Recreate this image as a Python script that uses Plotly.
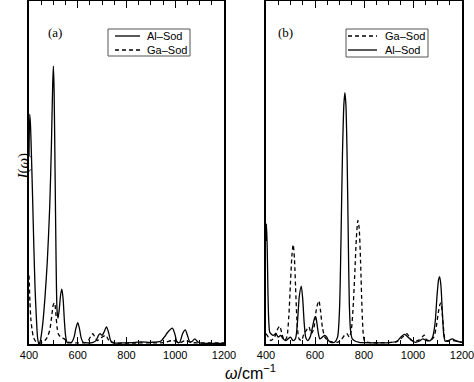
import plotly.graph_objects as go

# ---------------- data (relative intensity) ----------------
a_al_w = [400, 403, 406, 410, 415, 420, 425, 430, 435, 440, 445, 455, 465, 475, 485, 492, 497, 500, 503,
          507, 511, 515, 519, 524, 530, 535, 540, 545, 550, 556, 565, 575, 585, 592, 600, 607, 614, 622,
          640, 660, 675, 685, 692, 700, 708, 718, 726, 735, 745, 780, 820, 860, 900, 940, 955, 970, 988,
          998, 1008, 1018, 1030, 1041, 1050, 1060, 1070, 1080, 1090, 1100, 1150, 1200]
a_al_i = [0.55, 0.67, 0.64, 0.55, 0.42, 0.28, 0.16, 0.08, 0.02, 0.0, 0.005, 0.05, 0.13, 0.24, 0.40, 0.58,
          0.75, 0.81, 0.74, 0.50, 0.25, 0.10, 0.075, 0.10, 0.145, 0.16, 0.13, 0.07, 0.025, 0.005, 0.003,
          0.005, 0.02, 0.045, 0.062, 0.045, 0.018, 0.005, 0.003, 0.004, 0.01, 0.025, 0.03, 0.025, 0.035,
          0.05, 0.035, 0.01, 0.003, 0.003, 0.004, 0.006, 0.005, 0.008, 0.02, 0.035, 0.046, 0.03, 0.005,
          0.005, 0.03, 0.041, 0.025, 0.006, 0.008, 0.015, 0.008, 0.003, 0.002, 0.002]

a_ga_w = [400, 404, 408, 413, 418, 425, 435, 450, 465, 475, 485, 493, 500, 505, 510, 515, 520, 530, 545,
          560, 575, 600, 630, 645, 655, 662, 670, 680, 690, 700, 715, 730, 760, 850, 950, 990, 1020, 1040,
          1070, 1120, 1200]
a_ga_i = [0.20, 0.12, 0.07, 0.04, 0.02, 0.01, 0.004, 0.003, 0.01, 0.02, 0.04, 0.08, 0.115, 0.12, 0.09,
          0.05, 0.03, 0.02, 0.015, 0.006, 0.004, 0.003, 0.004, 0.012, 0.025, 0.03, 0.02, 0.01, 0.015, 0.02,
          0.025, 0.008, 0.003, 0.003, 0.004, 0.01, 0.004, 0.01, 0.004, 0.003, 0.003]

b_al_w = [400, 402, 405, 408, 411, 415, 420, 430, 440, 450, 460, 470, 480, 490, 500, 510, 520, 528, 536,
          544, 550, 556, 562, 570, 580, 590, 598, 603, 608, 614, 620, 630, 640, 648, 655, 665, 680, 692,
          700, 706, 712, 718, 722, 726, 731, 736, 740, 745, 752, 765, 780, 800, 850, 900, 935, 950, 965,
          980, 995, 1010, 1025, 1040, 1055, 1070, 1080, 1090, 1098, 1105, 1109, 1114, 1120, 1126, 1132,
          1145, 1160, 1175, 1190, 1200]
b_al_i = [0.30, 0.35, 0.28, 0.15, 0.07, 0.035, 0.03, 0.025, 0.03, 0.02, 0.025, 0.015, 0.01, 0.015, 0.02,
          0.01, 0.015, 0.06, 0.14, 0.169, 0.13, 0.06, 0.02, 0.01, 0.02, 0.05, 0.075, 0.08, 0.06, 0.03,
          0.015, 0.02, 0.025, 0.02, 0.01, 0.005, 0.005, 0.02, 0.10, 0.30, 0.55, 0.70, 0.733, 0.70, 0.55,
          0.30, 0.12, 0.04, 0.015, 0.008, 0.005, 0.004, 0.003, 0.004, 0.008, 0.02, 0.028, 0.02, 0.01,
          0.005, 0.008, 0.015, 0.01, 0.01, 0.02, 0.06, 0.14, 0.19, 0.196, 0.17, 0.09, 0.025, 0.008, 0.01,
          0.015, 0.01, 0.006, 0.005]

b_ga_w = [400, 410, 420, 435, 445, 456, 465, 475, 485, 493, 500, 506, 511, 516, 522, 528, 535, 545, 555,
          565, 575, 585, 595, 603, 610, 616, 622, 630, 640, 655, 670, 690, 705, 720, 730, 740, 748, 755,
          762, 769, 775, 780, 786, 792, 797, 803, 830, 880, 930, 950, 965, 975, 985, 995, 1010, 1025, 1040,
          1046, 1055, 1070, 1085, 1095, 1103, 1110, 1114, 1118, 1124, 1130, 1140, 1160, 1180, 1200]
b_ga_i = [0.03, 0.02, 0.01, 0.02, 0.04, 0.052, 0.03, 0.01, 0.02, 0.08, 0.18, 0.26, 0.29, 0.25, 0.14, 0.05,
          0.015, 0.01, 0.03, 0.04, 0.05, 0.03, 0.045, 0.09, 0.115, 0.126, 0.10, 0.05, 0.02, 0.01, 0.006,
          0.005, 0.01, 0.025, 0.03, 0.02, 0.04, 0.10, 0.20, 0.31, 0.36, 0.34, 0.24, 0.10, 0.03, 0.008,
          0.004, 0.004, 0.006, 0.015, 0.025, 0.03, 0.02, 0.01, 0.008, 0.012, 0.022, 0.026, 0.012, 0.01,
          0.02, 0.05, 0.09, 0.115, 0.12, 0.10, 0.05, 0.015, 0.008, 0.01, 0.008, 0.005]

tick_vals = [400, 600, 800, 1000, 1200]
tick_text = ["400", "600", "800", "1000", "1200"]
legend_a = ["Al\u2013Sod", "Ga\u2013Sod"]
legend_b = ["Ga\u2013Sod", "Al\u2013Sod"]

# ---------------- figure ----------------
W, H = 474, 382
L_A, R_A, L_B, R_B = 29, 224, 266, 462
TOP, BOT = 1, 344
ph = BOT - TOP

def px(xpx):
    return xpx / W

def py(ypx):
    return (BOT - ypx) / ph

fig = go.Figure()
solid = dict(color="black", width=1.3)
dashed = dict(color="black", width=1.3, dash="4px,3px")
styles = {"Al\u2013Sod": solid, "Ga\u2013Sod": dashed}

fig.add_trace(go.Scatter(x=a_al_w, y=a_al_i, mode="lines", name=legend_a[0],
                         line=dict(**solid, shape="spline", smoothing=0.7), xaxis="x", yaxis="y"))
fig.add_trace(go.Scatter(x=a_ga_w, y=a_ga_i, mode="lines", name=legend_a[1],
                         line=dict(**dashed, shape="spline", smoothing=0.7), xaxis="x", yaxis="y"))
fig.add_trace(go.Scatter(x=b_ga_w, y=b_ga_i, mode="lines", name=legend_b[0],
                         line=dict(**dashed, shape="spline", smoothing=0.7), xaxis="x2", yaxis="y2"))
fig.add_trace(go.Scatter(x=b_al_w, y=b_al_i, mode="lines", name=legend_b[1],
                         line=dict(**solid, shape="spline", smoothing=0.7), xaxis="x2", yaxis="y2"))

xcommon = dict(range=[400, 1200], tickvals=tick_vals, ticktext=tick_text, ticks="inside", ticklen=7,
               tickcolor="black", tickwidth=1, showline=True, linecolor="black", linewidth=1.5,
               mirror="ticks", showgrid=False, zeroline=False, automargin=False,
               ticklabeloverflow="allow",
               minor=dict(dtick=50, tick0=400, ticks="inside", ticklen=4, tickcolor="black", showgrid=False),
               tickfont=dict(family="Liberation Sans, Arial", size=11, color="black"))
ycommon = dict(range=[0, 1], showticklabels=False, ticks="", showline=True, linecolor="black",
               linewidth=1.5, mirror=True, showgrid=False, zeroline=False, automargin=False)

fig.update_layout(
    width=W, height=H,
    margin=dict(l=0, r=0, t=TOP, b=H - BOT, autoexpand=False),
    paper_bgcolor="white", plot_bgcolor="white",
    xaxis=dict(domain=[px(L_A), px(R_A)], anchor="y", **xcommon),
    yaxis=dict(domain=[0, 1], anchor="x", **ycommon),
    xaxis2=dict(domain=[px(L_B), px(R_B)], anchor="y2", **xcommon),
    yaxis2=dict(domain=[0, 1], anchor="x2", **ycommon),
    showlegend=False,
)

# manual legends (box + sample line + label)
def add_legend(names, box, sample, text_x, rows):
    x0, y0, x1, y1 = box
    fig.add_shape(type="rect", xref="paper", yref="paper", x0=px(x0), x1=px(x1), y0=py(y0), y1=py(y1),
                  line=dict(color="#555", width=1), fillcolor="white", layer="above")
    for name, ry in zip(names, rows):
        fig.add_shape(type="line", xref="paper", yref="paper", x0=px(sample[0]), x1=px(sample[1]),
                      y0=py(ry), y1=py(ry), line=styles[name], layer="above")
        fig.add_annotation(x=px(text_x), y=py(ry), xref="paper", yref="paper", text=name,
                           showarrow=False, xanchor="left", yanchor="middle",
                           font=dict(family="Liberation Sans, Arial", size=11, color="black"))

add_legend(legend_a, (108, 29, 190, 56), (115, 140), 145, (36, 50))
add_legend(legend_b, (346, 29, 428, 57), (348, 377), 383, (36, 50))

fig.add_annotation(x=px(45.5), y=py(23), xref="paper", yref="paper", text="(a)", showarrow=False,
                   font=dict(family="Liberation Serif, Times New Roman", size=13, color="black"))
fig.add_annotation(x=px(285.5), y=py(23), xref="paper", yref="paper", text="(b)", showarrow=False,
                   font=dict(family="Liberation Serif, Times New Roman", size=13, color="black"))
fig.add_annotation(x=px(250), y=py(360), xref="paper", yref="paper", yanchor="top",
                   text="<i>\u03c9</i>/cm<sup>\u22121</sup>", showarrow=False,
                   font=dict(family="Liberation Sans, Arial", size=16, color="black"))
fig.add_annotation(x=px(12), y=py(166), xref="paper", yref="paper", text="<i>I</i>(<i>\u03c9</i>)",
                   textangle=-90, showarrow=False,
                   font=dict(family="Liberation Serif, Times New Roman", size=15, color="black"))

fig.write_html("out.html", config={"displayModeBar": False},
               post_script="document.body.style.margin='0';document.body.style.padding='0';"
                           "document.documentElement.style.overflow='hidden';")
